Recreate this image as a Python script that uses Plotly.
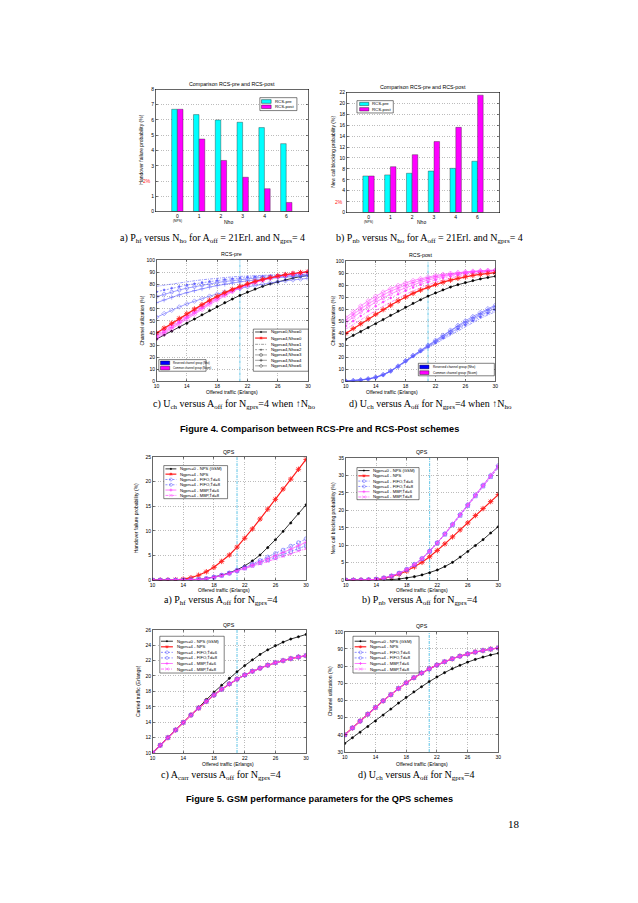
import plotly.graph_objects as go

W, H = 638, 903
SANS = "Liberation Sans, Arial, sans-serif"
SERIF = "Liberation Serif, Times New Roman, serif"

# ---------------- data ----------------
NHO_CATS = ["0", "1", "2", "3", "4", "6"]
PHF_RCS_PRE = [6.7, 6.35, 6.0, 5.85, 5.5, 4.45]
PHF_RCS_POST = [6.7, 4.75, 3.35, 2.25, 1.5, 0.6]
PNB_RCS_PRE = [6.7, 6.9, 7.2, 7.6, 8.1, 9.4]
PNB_RCS_POST = [6.7, 8.4, 10.6, 13.0, 15.6, 21.5]

AOFF = list(range(10, 31))
AOFF_TICKS = [10, 14, 18, 22, 26, 30]
A_REF = 21

UCH_GSM = [35, 38.3, 41.5, 44.8, 48, 51.5, 55, 58.5, 61.8, 65, 68, 71, 73.7, 76.2, 78.5, 80.5, 82.3, 83.9, 85.3, 86.5, 87.5]
UCH_NPS4 = [40, 44, 48, 52, 55.9, 59.8, 63.4, 67, 70.3, 73.3, 76, 78.4, 80.6, 82.6, 84.3, 85.8, 87.1, 88.2, 89.1, 89.9, 90.6]

# RCS-pre: reserved (Nho) and common (Ncom) channel group utilisation
PRE_RES_NHO1 = [78.5, 79.5, 80.5, 81.4, 82.3, 83.1, 83.9, 84.6, 85.2, 85.8, 86.3, 86.7, 87.1, 87.4, 87.7, 87.9, 88.1, 88.3, 88.4, 88.5, 88.6]
PRE_RES_NHO2 = [74, 75.5, 77, 78.3, 79.5, 80.6, 81.6, 82.5, 83.3, 84.1, 84.8, 85.4, 85.9, 86.4, 86.8, 87.2, 87.5, 87.8, 88.0, 88.2, 88.4]
PRE_RES_NHO3 = [70, 72, 73.8, 75.5, 77, 78.3, 79.5, 80.6, 81.6, 82.5, 83.3, 84.0, 84.7, 85.3, 85.8, 86.3, 86.7, 87.1, 87.4, 87.7, 88.0]
PRE_RES_NHO4 = [65, 67.3, 69.5, 71.5, 73.3, 75, 76.5, 77.9, 79.1, 80.3, 81.3, 82.2, 83.0, 83.8, 84.5, 85.1, 85.6, 86.1, 86.5, 86.9, 87.2]
PRE_RES_NHO6 = [53, 56, 58.8, 61.5, 64, 66.3, 68.4, 70.4, 72.2, 73.9, 75.4, 76.8, 78.1, 79.3, 80.4, 81.4, 82.3, 83.1, 83.8, 84.5, 85.1]
PRE_COM_NHO1 = [39, 43, 47, 51, 55, 59, 62.8, 66.4, 69.8, 72.9, 75.7, 78.2, 80.4, 82.4, 84.1, 85.6, 86.9, 88.0, 88.9, 89.7, 90.4]
PRE_COM_NHO2 = [38.3, 42.3, 46.3, 50.3, 54.3, 58.3, 62.2, 65.9, 69.3, 72.5, 75.4, 78.0, 80.2, 82.2, 84.0, 85.5, 86.8, 87.9, 88.8, 89.6, 90.3]
PRE_COM_NHO3 = [37.5, 41.5, 45.5, 49.5, 53.5, 57.5, 61.5, 65.3, 68.8, 72.1, 75.0, 77.7, 80.0, 82.0, 83.8, 85.4, 86.7, 87.8, 88.8, 89.6, 90.3]
PRE_COM_NHO4 = [36.5, 40.5, 44.5, 48.5, 52.5, 56.6, 60.7, 64.6, 68.3, 71.7, 74.8, 77.5, 79.9, 82.0, 83.8, 85.4, 86.7, 87.8, 88.8, 89.6, 90.3]
PRE_COM_NHO6 = [35.3, 39.2, 43.1, 47.1, 51.2, 55.3, 59.4, 63.4, 67.2, 70.8, 74.1, 77.0, 79.6, 81.8, 83.7, 85.3, 86.7, 87.8, 88.8, 89.6, 90.3]

# RCS-post
POST_RES_NHO1 = [0.3, 0.6, 1.1, 1.9, 3.2, 5.3, 8.4, 12.2, 16.4, 20.5, 24.4, 28.0, 31.5, 35.2, 39.0, 42.6, 46.0, 49.3, 52.4, 55.3, 58.0]
POST_RES_NHO2 = [0.3, 0.6, 1.1, 2.0, 3.3, 5.4, 8.5, 12.4, 16.7, 20.9, 24.9, 28.6, 32.3, 36.1, 40.0, 43.7, 47.2, 50.5, 53.7, 56.7, 59.5]
POST_RES_NHO3 = [0.3, 0.6, 1.2, 2.0, 3.4, 5.5, 8.6, 12.5, 16.9, 21.2, 25.3, 29.2, 33.0, 37.0, 41.0, 44.8, 48.4, 51.8, 55.0, 58.1, 61.0]
POST_RES_NHO4 = [0.3, 0.7, 1.2, 2.1, 3.5, 5.6, 8.7, 12.7, 17.1, 21.5, 25.7, 29.7, 33.7, 37.8, 41.9, 45.8, 49.5, 53.0, 56.3, 59.5, 62.4]
POST_RES_NHO6 = [0.3, 0.7, 1.3, 2.2, 3.6, 5.7, 8.8, 12.8, 17.3, 21.8, 26.1, 30.2, 34.3, 38.5, 42.7, 46.7, 50.5, 54.1, 57.4, 60.6, 63.5]
POST_COM_NHO1 = [43.5, 47.5, 51.5, 55.3, 59, 62.6, 66, 69.3, 72.4, 75.3, 78, 80.4, 82.5, 84.4, 86, 87.4, 88.6, 89.6, 90.4, 91.1, 91.6]
POST_COM_NHO2 = [46, 50.3, 54.5, 58.6, 62.5, 66.1, 69.5, 72.6, 75.5, 78.1, 80.5, 82.6, 84.5, 86.1, 87.5, 88.7, 89.7, 90.5, 91.1, 91.6, 92.0]
POST_COM_NHO3 = [49, 53.6, 58, 62.1, 66, 69.5, 72.7, 75.5, 78, 80.4, 82.5, 84.4, 86, 87.4, 88.5, 89.5, 90.3, 91, 91.5, 91.9, 92.3]
POST_COM_NHO4 = [51, 55.8, 60.4, 64.6, 68.5, 72, 75.1, 77.8, 80.2, 82.3, 84.2, 85.8, 87.2, 88.4, 89.4, 90.2, 90.9, 91.4, 91.9, 92.2, 92.5]
POST_COM_NHO6 = [53, 58, 62.8, 67.1, 71, 74.4, 77.3, 79.9, 82.1, 84, 85.6, 87, 88.2, 89.2, 90, 90.7, 91.3, 91.8, 92.2, 92.5, 92.7]

# QPS schemes
GSM_PHF = [0, 0, 0, 0, 0.02, 0.06, 0.15, 0.32, 0.6, 1.0, 1.5, 2.1, 2.9, 3.9, 5.1, 6.6, 8.2, 9.9, 11.6, 13.5, 15.3]
NPS4_PHF = [0, 0, 0.02, 0.08, 0.2, 0.5, 1.0, 1.7, 2.6, 3.8, 5.1, 6.7, 8.5, 10.4, 12.4, 14.4, 16.4, 18.5, 20.5, 22.5, 24.5]
FIFO6_PHF = [0, 0, 0, 0, 0.02, 0.06, 0.15, 0.3, 0.6, 1.0, 1.45, 2.0, 2.6, 3.3, 4.0, 4.7, 5.4, 6.1, 6.9, 7.6, 8.4]
FIFO8_PHF = [0, 0, 0, 0, 0.02, 0.06, 0.15, 0.3, 0.58, 0.95, 1.4, 1.9, 2.45, 3.0, 3.55, 4.1, 4.6, 5.2, 5.8, 6.4, 7.0]
MBP6_PHF = [0, 0, 0, 0, 0.02, 0.06, 0.15, 0.3, 0.58, 0.95, 1.4, 1.9, 2.5, 3.1, 3.7, 4.3, 4.9, 5.6, 6.3, 7.0, 7.7]
MBP8_PHF = [0, 0, 0, 0, 0.02, 0.06, 0.14, 0.28, 0.55, 0.9, 1.35, 1.8, 2.3, 2.8, 3.3, 3.8, 4.3, 4.8, 5.3, 5.9, 6.4]
GSM_PNB = [0, 0, 0, 0, 0.02, 0.06, 0.15, 0.32, 0.6, 1.0, 1.5, 2.1, 2.9, 3.9, 5.1, 6.6, 8.2, 9.9, 11.6, 13.5, 15.3]
NPS4_PNB = [0, 0, 0.02, 0.08, 0.2, 0.5, 1.0, 1.7, 2.6, 3.8, 5.1, 6.7, 8.5, 10.4, 12.4, 14.4, 16.4, 18.5, 20.5, 22.5, 24.5]
QPS_PNB_TD6 = [0, 0, 0.03, 0.1, 0.25, 0.6, 1.2, 2.0, 3.1, 4.5, 6.2, 8.3, 10.7, 13.3, 16.0, 18.8, 21.6, 24.4, 27.2, 30.0, 32.8]
QPS_PNB_TD8 = [0, 0, 0.03, 0.1, 0.25, 0.6, 1.15, 1.95, 3.0, 4.4, 6.1, 8.2, 10.6, 13.1, 15.8, 18.5, 21.3, 24.1, 26.9, 29.6, 32.3]
GSM_ACARR = [10, 11, 12, 13, 14, 15, 15.98, 16.95, 17.9, 18.8, 19.7, 20.55, 21.35, 22.1, 22.8, 23.4, 23.95, 24.4, 24.8, 25.1, 25.4]
QPS_ACARR = [10, 11, 12, 12.99, 13.97, 14.93, 15.84, 16.7, 17.53, 18.28, 18.98, 19.59, 20.13, 20.61, 21.02, 21.4, 21.74, 22.0, 22.26, 22.47, 22.65]

# ---------------- styling ----------------
BLACK = "#000000"
RED = "#ff1e1e"
BLUE = "#6060ff"
MAG = "#ff40ff"
CYAN_BAR = "#00ffff"
MAG_BAR = "#ff00ff"
DASH = "2px,1.5px"
DASHDOT = "3px,1px,1px,1px"

fig = go.Figure()
shapes, annots = [], []
layout = {}


def an(i):
    return "" if i == 1 else str(i)


def box_dom(x0, y0, x1, y1):
    return [x0 / W, x1 / W], [1 - y1 / H, 1 - y0 / H]


def axis(dom, rng, anchor, grid=True, **kw):
    d = dict(domain=dom, range=rng, anchor=anchor, showline=True, linecolor="black",
             linewidth=0.6, mirror="ticks", ticks="inside", ticklen=2, tickwidth=0.5,
             tickcolor="black", tickfont=dict(size=5, family=SANS, color="black"),
             showgrid=grid, gridcolor="#7a7a7a", griddash="1px,1.5px", gridwidth=0.5,
             zeroline=False, fixedrange=True)
    d.update(kw)
    return d


def text(x, y, t, size=5, xanchor="center", yanchor="middle", color="black", family=SANS, angle=0):
    annots.append(dict(x=x / W, y=1 - y / H, xref="paper", yref="paper", text=t, showarrow=False,
                       xanchor=xanchor, yanchor=yanchor, textangle=angle,
                       font=dict(size=size, color=color, family=family)))


def rect(x0, y0, x1, y1, fill, line="black", lw=0.5):
    shapes.append(dict(type="rect", xref="paper", yref="paper", x0=x0 / W, x1=x1 / W,
                       y0=1 - y1 / H, y1=1 - y0 / H, fillcolor=fill, line=dict(color=line, width=lw)))


def seg(x0, y0, x1, y1, color, width=0.6, dash="solid"):
    shapes.append(dict(type="line", xref="paper", yref="paper", x0=x0 / W, y0=1 - y0 / H,
                       x1=x1 / W, y1=1 - y1 / H, line=dict(color=color, width=width, dash=dash)))


def glyph(kind, cx, cy, color, r=1.5, lw=0.5):
    if kind is None:
        return
    if kind == "dot":
        shapes.append(dict(type="circle", xref="paper", yref="paper", x0=(cx - 0.8) / W, x1=(cx + 0.8) / W,
                           y0=1 - (cy + 0.8) / H, y1=1 - (cy - 0.8) / H, fillcolor=color,
                           line=dict(color=color, width=0.3)))
    elif kind == "circle":
        shapes.append(dict(type="circle", xref="paper", yref="paper", x0=(cx - r) / W, x1=(cx + r) / W,
                           y0=1 - (cy + r) / H, y1=1 - (cy - r) / H, fillcolor="rgba(0,0,0,0)",
                           line=dict(color=color, width=lw)))
    elif kind == "diamond":
        p = [(cx, cy - r * 1.2), (cx + r * 1.2, cy), (cx, cy + r * 1.2), (cx - r * 1.2, cy)]
        path = "M" + " L".join(f"{x / W},{1 - y / H}" for x, y in p) + " Z"
        shapes.append(dict(type="path", xref="paper", yref="paper", path=path,
                           line=dict(color=color, width=lw)))
    elif kind in ("plus", "star"):
        seg(cx - r, cy, cx + r, cy, color, lw + 0.2)
        seg(cx, cy - r, cx, cy + r, color, lw + 0.2)
        if kind == "star":
            seg(cx - r * 0.75, cy - r * 0.75, cx + r * 0.75, cy + r * 0.75, color, lw + 0.2)
            seg(cx - r * 0.75, cy + r * 0.75, cx + r * 0.75, cy - r * 0.75, color, lw + 0.2)
    elif kind == "x":
        seg(cx - r, cy - r, cx + r, cy + r, color, lw)
        seg(cx - r, cy + r, cx + r, cy - r, color, lw)


def legend_lines(box, rows, x0, x1, tx, entries, size=4.3):
    rect(*box, fill="white", lw=0.5)
    for yc, (label, color, width, dash, g) in zip(rows, entries):
        seg(x0, yc, x1, yc, color, width, dash)
        glyph(g, (x0 + x1) / 2, yc, color)
        text(tx, yc, label, size=size, xanchor="left")


def legend_swatches(box, sw_x, tx, rows, entries, size=4.3):
    rect(*box, fill="white", lw=0.5)
    for (y0, y1), (label, color) in zip(rows, entries):
        rect(sw_x[0], y0, sw_x[1], y1, fill=color, lw=0.4)
        text(tx, (y0 + y1) / 2, label, size=size, xanchor="left")


def add_line(i, y, color, width=0.7, dash="solid", symbol=None, msize=3.5, mlw=0.6):
    kw = dict(mode="lines")
    if symbol:
        kw = dict(mode="lines+markers",
                  marker=dict(symbol=symbol, size=msize, color=color, line=dict(color=color, width=mlw)))
    fig.add_trace(go.Scatter(x=AOFF, y=y, xaxis="x" + an(i), yaxis="y" + an(i),
                             line=dict(color=color, width=width, dash=dash),
                             showlegend=False, hoverinfo="skip", **kw))


def ref_line(i):
    shapes.append(dict(type="line", xref="x" + an(i), yref="y" + an(i) + " domain", x0=A_REF, x1=A_REF,
                       y0=0, y1=1, layer="below", line=dict(color="#35b5e0", width=0.8, dash=DASHDOT)))


# ---------------- panel boxes (page pixels) ----------------
BOXES = {
    1: (154, 87, 308, 210),
    2: (347, 90, 501, 211),
    3: (155, 259, 308, 381),
    4: (346, 260, 497, 381),
    5: (151, 457, 306, 581),
    6: (346, 458, 500, 581),
    7: (151, 631, 306, 755),
    8: (345, 633, 500, 754),
}

# ---------------- Figure 4 a/b: bars ----------------
for i, pre, post, ymax in [(1, PHF_RCS_PRE, PHF_RCS_POST, 8), (2, PNB_RCS_PRE, PNB_RCS_POST, 22)]:
    x0, y0, x1, y1 = BOXES[i]
    xd, yd = box_dom(x0, y0, x1, y1)
    fig.add_trace(go.Bar(x=NHO_CATS, y=pre, xaxis="x" + an(i), yaxis="y" + an(i), marker_color=CYAN_BAR,
                         marker_line=dict(color="#203030", width=0.4), showlegend=False, hoverinfo="skip"))
    fig.add_trace(go.Bar(x=NHO_CATS, y=post, xaxis="x" + an(i), yaxis="y" + an(i), marker_color=MAG_BAR,
                         marker_line=dict(color="#302030", width=0.4), showlegend=False, hoverinfo="skip"))
    step = 1 if ymax == 8 else 2
    yt = list(range(0, ymax + 1, step))
    ytt = ["" if v == 2 else str(v) for v in yt]
    layout["xaxis" + an(i)] = axis(xd, [-1, 6], "y" + an(i), grid=False, type="category",
                                    tickvals=NHO_CATS, ticktext=NHO_CATS, ticks="", mirror=True)
    layout["yaxis" + an(i)] = axis(yd, [0, ymax], "x" + an(i), tickvals=yt, ticktext=ytt)
    # red "2%" tick label and "(NPS)" note under category 0
    annots.append(dict(x=(x0 - 2.2) / W, xref="paper", y=2, yref="y" + an(i), text="2%", showarrow=False,
                       xanchor="right", yanchor="middle", font=dict(size=5, color="#ff2020", family=SANS)))
    annots.append(dict(x=0, xref="x" + an(i), y=1 - (y1 + 9) / H, yref="paper", text="(NPS)", showarrow=False,
                       xanchor="center", yanchor="middle", font=dict(size=3.3, color="black", family=SANS)))

# ---------------- Figure 4 c/d: RCS-pre / RCS-post ----------------
NHO_STYLE = [  # (dash, symbol, legend glyph)
    (DASHDOT, None, None),
    (DASH, "circle", "dot"),
    ("solid", "circle-open", "circle"),
    ("solid", "cross-thin-open", "plus"),
    ("solid", "diamond-open", "diamond"),
]
PRE_RES = [PRE_RES_NHO1, PRE_RES_NHO2, PRE_RES_NHO3, PRE_RES_NHO4, PRE_RES_NHO6]
PRE_COM = [PRE_COM_NHO1, PRE_COM_NHO2, PRE_COM_NHO3, PRE_COM_NHO4, PRE_COM_NHO6]
POST_RES = [POST_RES_NHO1, POST_RES_NHO2, POST_RES_NHO3, POST_RES_NHO4, POST_RES_NHO6]
POST_COM = [POST_COM_NHO1, POST_COM_NHO2, POST_COM_NHO3, POST_COM_NHO4, POST_COM_NHO6]

for i, res, com in [(3, PRE_RES, PRE_COM), (4, POST_RES, POST_COM)]:
    xd, yd = box_dom(*BOXES[i])
    layout["xaxis" + an(i)] = axis(xd, [10, 30], "y" + an(i), tickvals=AOFF_TICKS)
    layout["yaxis" + an(i)] = axis(yd, [0, 100], "x" + an(i), dtick=10, tick0=0)
    ref_line(i)
    add_line(i, UCH_GSM, BLACK, 0.8, "solid", "circle", 2.2)
    for y, (dsh, sym, _) in zip(res, NHO_STYLE):
        msz = 2 if sym == "circle" else 3.5
        add_line(i, y, BLUE, 0.6, dsh, sym, msz, 0.5)
    for y, (dsh, sym, _) in zip(com, NHO_STYLE):
        msz = 2 if sym == "circle" else 3.5
        add_line(i, y, MAG, 0.6, dsh, sym, msz, 0.5)
    add_line(i, UCH_NPS4, RED, 1.2, "solid", "asterisk-open", 4.5, 0.9)

# ---------------- Figure 5: QPS ----------------
QPS_PANELS = [
    (5, [0, 25], 5, [GSM_PHF, NPS4_PHF, FIFO6_PHF, FIFO8_PHF, MBP6_PHF, MBP8_PHF]),
    (6, [0, 35], 5, [GSM_PNB, NPS4_PNB, QPS_PNB_TD6, QPS_PNB_TD8, QPS_PNB_TD6, QPS_PNB_TD8]),
    (7, [10, 26], 2, [GSM_ACARR, QPS_ACARR, QPS_ACARR, QPS_ACARR, QPS_ACARR, QPS_ACARR]),
    (8, [30, 100], 10, [UCH_GSM, UCH_NPS4, UCH_NPS4, UCH_NPS4, UCH_NPS4, UCH_NPS4]),
]
QPS_STYLE = [  # color, width, dash, symbol, size, legend glyph
    (BLACK, 0.8, "solid", "circle", 2.2, "dot"),
    (RED, 1.2, "solid", "asterisk-open", 4.5, "star"),
    (BLUE, 0.7, DASH, "circle-open", 3.8, "circle"),
    (BLUE, 0.7, DASH, "square-open", 3.5, "circle"),
    (MAG, 0.7, "solid", "cross-thin-open", 3.8, "plus"),
    (MAG, 0.7, DASHDOT, "x-thin-open", 3.0, "x"),
]
QPS_LABELS = ["Ngprs=0 - NPS (GSM)", "Ngprs=4 - NPS", "Ngprs=4 - FIFO,T\u0304d=6",
              "Ngprs=4 - FIFO,T\u0304d=8", "Ngprs=4 - MBP,T\u0304d=6", "Ngprs=4 - MBP,T\u0304d=8"]

for i, yr, dt, series in QPS_PANELS:
    xd, yd = box_dom(*BOXES[i])
    layout["xaxis" + an(i)] = axis(xd, [10, 30], "y" + an(i), tickvals=AOFF_TICKS)
    layout["yaxis" + an(i)] = axis(yd, yr, "x" + an(i), dtick=dt, tick0=yr[0])
    ref_line(i)
    for y, (c, w, d, s, ms, _) in zip(series, QPS_STYLE):
        add_line(i, y, c, w, d, s, ms, 0.6 if c != RED else 0.9)

# ---------------- texts ----------------
# panel titles
text(231, 82, "Comparison RCS-pre and RCS-post", 5.3)
text(424, 84.5, "Comparison RCS-pre and RCS-post", 5.3)
text(231, 253, "RCS-pre", 5.3)
text(421, 253.5, "RCS-post", 5.3)
text(228, 452, "QPS", 5.3)
text(423, 452.5, "QPS", 5.3)
text(228, 626, "QPS", 5.3)
text(423, 627, "QPS", 5.3)

# y-axis titles
text(139, 148, "Handover failure probability (%)", 5, angle=-90)
text(333, 150, "New call blocking probability (%)", 5, angle=-90)
text(140, 320, "Channel utilization (%)", 5, angle=-90)
text(333, 320, "Channel utilization (%)", 5, angle=-90)
text(134, 519, "Handover failure probability (%)", 5, angle=-90)
text(333, 519, "New call blocking probability (%)", 5, angle=-90)
text(137, 693, "Carried traffic (Erlangs)", 5, angle=-90)
text(331, 693, "Channel utilization (%)", 5, angle=-90)

# x-axis titles
text(228, 220.5, "Nho", 5)
text(422, 220.5, "Nho", 5)
text(231, 392, "Offered traffic (Erlangs)", 5)
text(393, 392, "Offered traffic (Erlangs)", 5)
text(223, 591, "Offered traffic (Erlangs)", 5)
text(423, 591, "Offered traffic (Erlangs)", 5)
text(227, 766, "Offered traffic (Erlangs)", 5)
text(423, 766, "Offered traffic (Erlangs)", 5)

# captions
CAP = 10
text(211, 237, "a) P<sub>hf</sub> versus N<sub>ho</sub> for A<sub>off</sub> = 21Erl. and N<sub>gprs</sub>= 4", CAP, family=SERIF)
text(431, 237, "b) P<sub>nb</sub> versus N<sub>ho</sub> for A<sub>off</sub> = 21Erl. and N<sub>gprs</sub>= 4", CAP, family=SERIF)
text(233, 404, "c) U<sub>ch</sub> versus A<sub>off</sub> for N<sub>gprs</sub>=4 when \u2191N<sub>ho</sub>", CAP, family=SERIF)
text(432, 404, "d) U<sub>ch</sub> versus A<sub>off</sub> for N<sub>gprs</sub>=4 when \u2191N<sub>ho</sub>", CAP, family=SERIF)
text(319, 429, "<b>Figure 4. Comparison between RCS-Pre and RCS-Post schemes</b>", 9.2, family=SANS)
text(220, 601, "a) P<sub>hf</sub> versus A<sub>off</sub> for N<sub>gprs</sub>=4", CAP, family=SERIF)
text(420, 601, "b) P<sub>nb</sub> versus A<sub>off</sub> for N<sub>gprs</sub>=4", CAP, family=SERIF)
text(220, 778, "c) A<sub>carr</sub> versus A<sub>off</sub> for N<sub>gprs</sub>=4", CAP, family=SERIF)
text(417, 778, "d) U<sub>ch</sub> versus A<sub>off</sub> for N<sub>gprs</sub>=4", CAP, family=SERIF)
text(319, 801, "<b>Figure 5. GSM performance parameters for the QPS schemes</b>", 9.2, family=SANS)
text(516, 826, "18", 11, family=SERIF)

# ---------------- legends ----------------
legend_swatches((259.3, 95.3, 296.7, 108.3), (261, 270.7), 272.7,
                [(97.3, 101), (102.7, 106.3)], [("RCS-pre", CYAN_BAR), ("RCS-post", MAG_BAR)], 4.3)
legend_swatches((357.3, 98.3, 394, 110.7), (360, 369.3), 370.7,
                [(100, 103.3), (105.3, 108.7)], [("RCS-pre", CYAN_BAR), ("RCS-post", MAG_BAR)], 4.3)

GRAY = "#404040"
RCS_LEG = [("Ngprs=0,Nho=0", BLACK, 0.7, "solid", "dot"),
           ("Ngprs=4,Nho=0", RED, 1.2, "solid", "star")]
for n, (dsh, _, g) in zip([1, 2, 3, 4, 6], NHO_STYLE):
    RCS_LEG.append((f"Ngprs=4,Nho={n}", GRAY, 0.5, dsh, g))
legend_lines((252.7, 328.3, 308.3, 370.7), [331.2, 337.3, 343.6, 349, 354.3, 359.7, 365.3],
             254.5, 266.5, 268.3, RCS_LEG, 4.3)

GROUPS = [("Reserved channel group (Nho)", "#0000ff"), ("Common channel group (Ncom)", "#ff00ff")]
legend_swatches((157.3, 359, 205, 370.7), (159, 168.3), 170, [(360.4, 364.2), (365.6, 369.4)], GROUPS, 2.7)
legend_swatches((419.3, 362.7, 496, 375.3), (420.7, 430), 431.7, [(364.5, 368.3), (370.2, 374)], GROUPS, 3.1)

QPS_LEG = [(lab, c, w, d, g) for lab, (c, w, d, s, ms, g) in zip(QPS_LABELS, QPS_STYLE)]
legend_lines((162.3, 465.7, 226.7, 499), [469, 474.3, 479.7, 485, 490.3, 495.7], 164, 175, 176.7, QPS_LEG, 4.2)
legend_lines((357.3, 467.7, 420, 500), [470.7, 476, 481.3, 486.7, 492, 497.3], 358.7, 370, 371.7, QPS_LEG, 4.2)
legend_lines((158.3, 637.5, 223.3, 674.5), [642.5, 648.1, 653.7, 659.3, 664.9, 670.5], 159.5, 171.5, 174, QPS_LEG, 4.2)
legend_lines((353.3, 637.5, 420, 674.5), [642.5, 648.1, 653.7, 659.3, 664.9, 670.5], 355, 366.7, 368.3, QPS_LEG, 4.2)

fig.update_layout(
    width=W, height=H, margin=dict(l=0, r=0, t=0, b=0),
    paper_bgcolor="white", plot_bgcolor="white",
    barmode="group", bargap=0.47, bargroupgap=0.04,
    showlegend=False, shapes=shapes, annotations=annots,
    font=dict(family=SANS, size=5, color="black"),
    **layout,
)

fig.write_html("out.html", config={"displayModeBar": False, "staticPlot": True},
               post_script="document.body.style.margin='0';document.body.style.overflow='hidden';")
